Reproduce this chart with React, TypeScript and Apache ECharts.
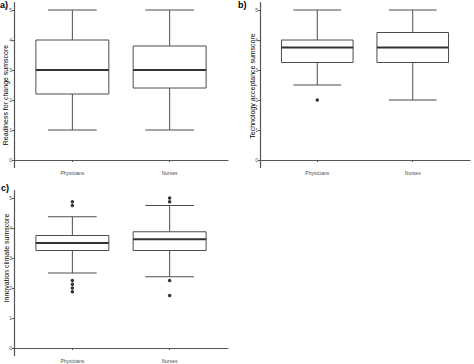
import React, { useEffect, useRef } from 'react';
import * as echarts from 'echarts';

const categories = ['Physicians', 'Nurses'];
const yTicks = [0, 1, 2, 3, 4, 5];
// each row: [lower whisker, Q1, median, Q3, upper whisker]
const readinessStats = [
  [1, 2.2, 3, 4, 5],
  [1, 2.4, 3, 3.8, 5],
];
const technologyStats = [
  [2.5, 3.25, 3.75, 4, 5],
  [2, 3.25, 3.75, 4.25, 5],
];
const innovationStats = [
  [2.5, 3.25, 3.5, 3.75, 4.375],
  [2.375, 3.25, 3.625, 3.875, 4.75],
];
const readinessOutliers: number[][] = [[], []];
const technologyOutliers: number[][] = [[2], []];
const innovationOutliers: number[][] = [
  [4.875, 4.75, 2.25, 2.125, 2.0, 1.875],
  [5, 4.875, 2.25, 1.75],
];
const yTitles = [
  'Readiness for change sumscore',
  'Technology acceptance sumscore',
  'Innovation climate sumscore',
];
const panelTags = ['a)', 'b)', 'c)'];

const FONT = 'Liberation Sans, Arial, sans-serif';

const renderBox = (params: any, api: any) => {
  const x = api.value(0);
  const lo = api.value(1);
  const q1 = api.value(2);
  const med = api.value(3);
  const q3 = api.value(4);
  const hi = api.value(5);
  const bl = api.coord([x - 0.375, q1]);
  const tr = api.coord([x + 0.375, q3]);
  const mL = api.coord([x - 0.375, med]);
  const mR = api.coord([x + 0.375, med]);
  const cHiL = api.coord([x - 0.25, hi]);
  const cHiR = api.coord([x + 0.25, hi]);
  const cLoL = api.coord([x - 0.25, lo]);
  const cLoR = api.coord([x + 0.25, lo]);
  const c = api.coord([x, 0]);
  const lineStyle = { stroke: '#4d4d4d', lineWidth: 1, fill: 'none' };
  return {
    type: 'group',
    children: [
      { type: 'line', shape: { x1: c[0], y1: cHiL[1], x2: c[0], y2: tr[1] }, style: lineStyle },
      { type: 'line', shape: { x1: c[0], y1: bl[1], x2: c[0], y2: cLoL[1] }, style: lineStyle },
      { type: 'line', shape: { x1: cHiL[0], y1: cHiL[1], x2: cHiR[0], y2: cHiR[1] }, style: lineStyle },
      { type: 'line', shape: { x1: cLoL[0], y1: cLoL[1], x2: cLoR[0], y2: cLoR[1] }, style: lineStyle },
      {
        type: 'rect',
        shape: { x: bl[0], y: tr[1], width: tr[0] - bl[0], height: bl[1] - tr[1] },
        style: { stroke: '#4d4d4d', lineWidth: 1, fill: '#ffffff' },
      },
      { type: 'line', shape: { x1: mL[0], y1: mL[1], x2: mR[0], y2: mR[1] }, style: { stroke: '#333333', lineWidth: 2 } },
    ],
  };
};

const grids = [
  { left: 14, top: 2.5, width: 214, height: 165 },
  { left: 260, top: 2.5, width: 210, height: 165 },
  { left: 14, top: 190.5, width: 214, height: 165 },
];

const statsList = [readinessStats, technologyStats, innovationStats];
const outlierList = [readinessOutliers, technologyOutliers, innovationOutliers];

export default function App() {
  const ref = useRef<HTMLDivElement>(null);
  useEffect(() => {
    if (!ref.current) return;
    const chart = echarts.init(ref.current, undefined, { renderer: 'svg' });
    const xAxis = grids.map((_, i) => ({
      type: 'value',
      gridIndex: i,
      min: 0.4,
      max: 2.6,
      splitLine: { show: false },
      axisLine: { show: true, lineStyle: { color: '#555555', width: 1.2 } },
      axisTick: { show: true, length: 2, customValues: [1, 2], lineStyle: { color: '#555555' } },
      axisLabel: {
        customValues: [1, 2],
        formatter: (v: number) => categories[Math.round(v) - 1] ?? '',
        fontSize: 5,
        color: '#4d4d4d',
        margin: 3,
        fontFamily: FONT,
      },
    }));
    const yAxis = grids.map((_, i) => ({
      type: 'value',
      gridIndex: i,
      min: -0.25,
      max: 5.25,
      splitLine: { show: false },
      axisLine: { show: true, lineStyle: { color: '#555555', width: 1.2 } },
      axisTick: { show: true, length: 2, customValues: yTicks, lineStyle: { color: '#555555' } },
      axisLabel: {
        customValues: yTicks,
        fontSize: 5,
        color: '#4d4d4d',
        margin: 2,
        fontFamily: FONT,
      },
    }));
    const series: any[] = [];
    statsList.forEach((stats, i) => {
      series.push({
        type: 'custom',
        xAxisIndex: i,
        yAxisIndex: i,
        renderItem: renderBox,
        encode: { x: 0, y: [1, 2, 3, 4, 5] },
        data: stats.map((s, k) => [k + 1, ...s]),
        silent: true,
      });
      const pts: number[][] = [];
      outlierList[i].forEach((vals, k) => vals.forEach((v) => pts.push([k + 1, v])));
      series.push({
        type: 'scatter',
        xAxisIndex: i,
        yAxisIndex: i,
        symbol: 'circle',
        symbolSize: 3.5,
        itemStyle: { color: '#000000' },
        data: pts,
        silent: true,
      });
    });
    const titlePos = [
      { x: 5, y: 95 },
      { x: 252, y: 86 },
      { x: 6, y: 258 },
    ];
    const tagPos = [
      { x: 0, y: 5 },
      { x: 238, y: 5 },
      { x: 1, y: 188 },
    ];
    const graphic: any[] = [];
    yTitles.forEach((t, i) => {
      graphic.push({
        type: 'text',
        x: titlePos[i].x,
        y: titlePos[i].y,
        rotation: Math.PI / 2,
        style: {
          text: t,
          fontSize: 7,
          fontFamily: FONT,
          fill: '#000000',
          align: 'center',
          verticalAlign: 'middle',
        },
      });
    });
    panelTags.forEach((t, i) => {
      graphic.push({
        type: 'text',
        x: tagPos[i].x,
        y: tagPos[i].y,
        style: {
          text: t,
          fontSize: 9,
          fontWeight: 'bold',
          fontFamily: FONT,
          fill: '#000000',
          align: 'left',
          verticalAlign: 'middle',
        },
      });
    });
    chart.setOption({
      animation: false,
      backgroundColor: '#ffffff',
      grid: grids,
      xAxis,
      yAxis,
      series,
      graphic,
    });
    return () => chart.dispose();
  }, []);
  return (
    <div
      ref={ref}
      style={{ position: 'absolute', left: 0, top: 0, width: 474, height: 364 }}
    />
  );
}
